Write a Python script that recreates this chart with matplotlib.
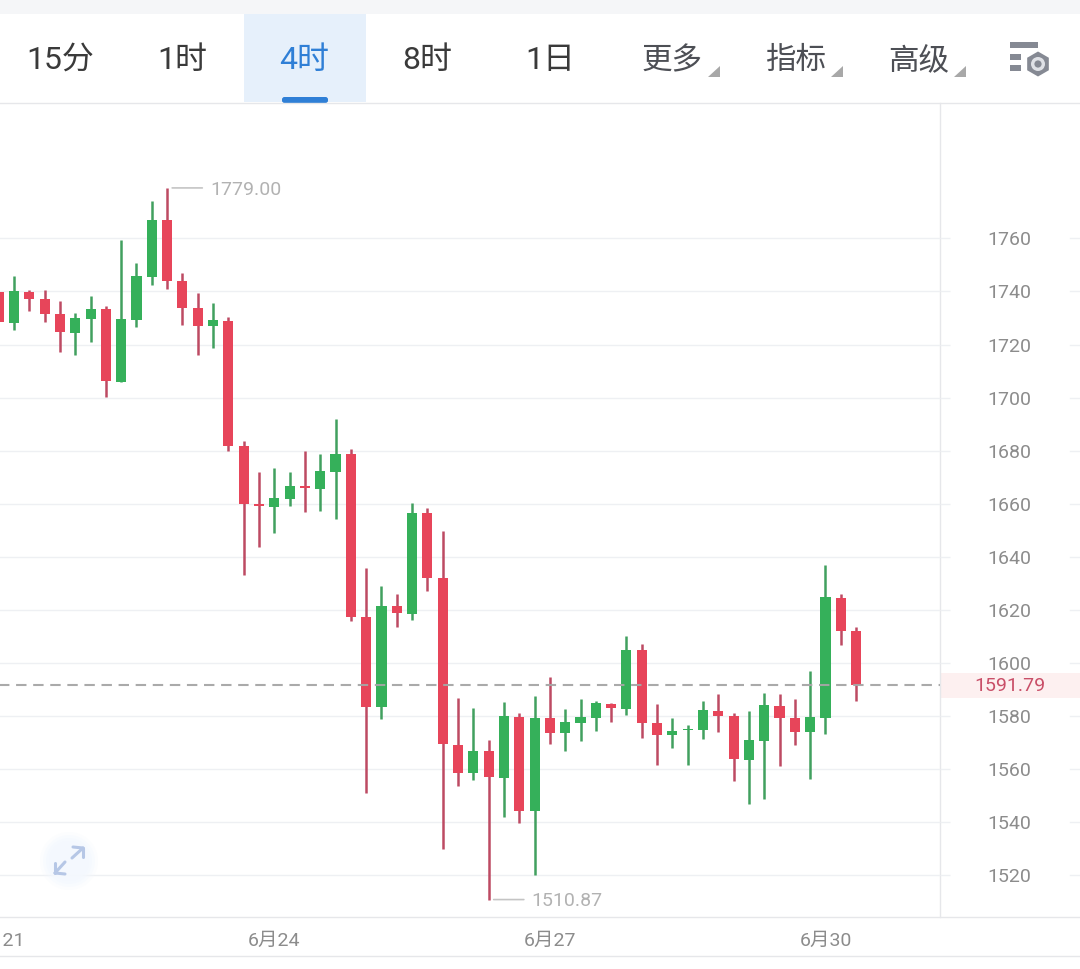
import matplotlib
matplotlib.use("Agg")
import matplotlib.pyplot as plt
from matplotlib.patches import Rectangle, FancyBboxPatch, Polygon, Circle, RegularPolygon

plt.rcParams['font.family'] = ['Roboto', 'Noto Sans CJK SC', 'DejaVu Sans']

# 4-hour candles, oldest first
opens = [1739.8, 1728.1, 1739.8, 1737.1, 1731.5, 1724.3, 1729.6, 1733.4, 1705.9, 1729.2,
         1745.4, 1766.9, 1743.9, 1733.7, 1727.0, 1728.8, 1681.7, 1659.9, 1658.8, 1661.8,
         1666.7, 1665.5, 1671.9, 1678.7, 1617.3, 1583.4, 1621.4, 1618.4, 1656.5, 1632.0,
         1569.1, 1558.5, 1566.8, 1556.6, 1579.6, 1544.2, 1579.3, 1573.6, 1577.4, 1579.3,
         1584.5, 1582.7, 1604.9, 1577.4, 1572.9, 1574.7, 1574.7, 1581.9, 1580.0, 1563.5,
         1570.6, 1583.8, 1579.3, 1574.0, 1579.3, 1624.5, 1612.0]
highs = [1740.4, 1745.8, 1740.5, 1740.5, 1736.4, 1731.9, 1738.3, 1734.5, 1759.4, 1750.7,
         1774.05, 1779.0, 1746.9, 1739.4, 1735.6, 1730.3, 1683.6, 1671.9, 1673.5, 1671.9,
         1679.9, 1678.7, 1691.9, 1680.6, 1635.8, 1629.0, 1626.0, 1660.3, 1658.4, 1649.7,
         1586.8, 1583.0, 1571.0, 1585.3, 1581.2, 1587.5, 1594.7, 1582.7, 1586.4, 1585.7,
         1584.9, 1610.1, 1607.1, 1584.5, 1579.3, 1576.6, 1585.7, 1588.3, 1581.2, 1581.9,
         1588.7, 1588.3, 1586.4, 1596.9, 1636.9, 1626.0, 1613.5]
lows = [1728.0, 1725.4, 1732.6, 1728.5, 1717.2, 1716.0, 1720.9, 1700.2, 1705.9, 1726.6,
        1742.4, 1740.9, 1727.3, 1716.0, 1718.7, 1679.9, 1633.1, 1643.7, 1649.0, 1659.1,
        1656.9, 1657.2, 1654.2, 1615.8, 1551.0, 1578.9, 1613.5, 1616.2, 1627.1, 1529.9,
        1553.6, 1555.9, 1510.87, 1541.9, 1539.6, 1520.0, 1569.5, 1566.8, 1570.6, 1574.4,
        1577.8, 1580.4, 1571.7, 1561.5, 1568.0, 1561.5, 1571.3, 1574.0, 1555.5, 1546.8,
        1548.7, 1561.1, 1569.1, 1556.3, 1573.2, 1606.7, 1585.7]
closes = [1728.5, 1740.1, 1737.2, 1731.5, 1724.7, 1730.0, 1733.4, 1706.2, 1729.6, 1745.8,
          1766.9, 1743.9, 1733.7, 1727.0, 1729.2, 1681.7, 1659.9, 1659.1, 1662.1, 1666.7,
          1665.9, 1672.3, 1678.7, 1617.3, 1583.4, 1621.4, 1618.8, 1656.5, 1632.0, 1569.5,
          1558.5, 1566.8, 1557.0, 1580.0, 1544.2, 1579.3, 1573.6, 1577.8, 1579.6, 1584.9,
          1583.0, 1604.9, 1577.4, 1572.9, 1574.4, 1575.1, 1582.3, 1580.0, 1563.8, 1571.0,
          1584.2, 1579.3, 1574.0, 1579.6, 1624.8, 1612.0, 1591.79]

date_ticks = [0, 18, 36, 54]
date_labels = ["6月21", "6月24", "6月27", "6月30"]
price_ticks = [1520, 1540, 1560, 1580, 1600, 1620, 1640, 1660, 1680, 1700, 1720, 1740, 1760]
period_tabs = ["15分", "1时", "4时", "8时", "1日"]
menu_tabs = ["更多", "指标", "高级"]
last_price = closes[-1]
peak_price = max(highs)
trough_price = min(lows)

RED, GREEN = "#e7455a", "#35b05a"
RED_WICK, GREEN_WICK = "#bd4a63", "#41a05f"
GRID = "#eef0f3"
RULE = "#e6e7ea"

W, H = 1080, 969
fig = plt.figure(figsize=(W / 100, H / 100), dpi=100, facecolor="white")

# Price pane: extends past the left edge so the oldest candle is cut off
LEFT, RIGHT, TOP, BOTTOM = -30, 940, 103, 917
ax = fig.add_axes([LEFT / W, 1 - BOTTOM / H, (RIGHT - LEFT) / W, (BOTTOM - TOP) / H])
ax.set_xlim(-1.874, 61.48)
ax.set_ylim(1504.3, 1811.0)
ax.patch.set_alpha(0)
for side in ax.spines.values():
    side.set_visible(False)

ax.yaxis.tick_right()
ax.set_yticks(price_ticks)
ax.set_yticklabels([str(v) for v in price_ticks], ha="center")
ax.tick_params(axis="y", length=7.2, width=1, color=GRID, pad=43, labelsize=14, labelcolor="#8c8c8c")
ax.set_xticks(date_ticks)
ax.set_xticklabels(date_labels)
ax.tick_params(axis="x", length=0, pad=10.5, labelsize=14, labelcolor="#8c8c8c")
ax.grid(axis="y", color=GRID, linewidth=1)
ax.set_axisbelow(True)

# Short stub of each gridline at the far right edge
for v in price_ticks:
    ax.plot([(1070 - LEFT) / (RIGHT - LEFT), (1080 - LEFT) / (RIGHT - LEFT)], [v, v],
            transform=ax.get_yaxis_transform(), color=GRID, lw=1, clip_on=False)

for i, (o, h, l, c) in enumerate(zip(opens, highs, lows, closes)):
    falling = c < o
    ax.vlines(i, l, h, color=RED_WICK if falling else GREEN_WICK, linewidth=1.8, zorder=2)
    ax.bar(i, abs(c - o), bottom=min(o, c), width=0.66,
           color=RED if falling else GREEN, linewidth=0, zorder=3)

# Last-price marker
ax.axhline(last_price, color="#a6a6a6", linewidth=1.5, dashes=(5, 3.2), zorder=4, alpha=0.95)

# Extremes, labelled beside the candle that set them
for price, candle_list in ((peak_price, highs), (trough_price, lows)):
    idx = candle_list.index(price)
    ax.annotate("", xy=(idx + 0.33, price), xytext=(idx + 2.3, price),
                arrowprops=dict(arrowstyle="-", color="#c4c4c4", lw=1.2, shrinkA=0, shrinkB=0))
    ax.annotate(f"{price:.2f}", xy=(idx + 2.81, price), xytext=(0, -1.2), textcoords="offset points",
                color="#b2b2b2", fontsize=14, va="center", ha="left")

# Toolbar and frame, laid out in screen pixels
ui = fig.add_axes([0, 0, 1, 1], zorder=-1)
ui.set_xlim(0, W)
ui.set_ylim(H, 0)
ui.axis("off")
top = fig.add_axes([0, 0, 1, 1], zorder=5)
top.set_xlim(0, W)
top.set_ylim(H, 0)
top.axis("off")
top.patch.set_alpha(0)

ui.add_patch(Rectangle((0, 0), W, 14, color="#f5f6f8", lw=0))
ui.add_patch(Rectangle((244, 14), 122, 88, color="#e6f0fb", lw=0))
ui.add_patch(FancyBboxPatch((282, 97), 46, 6, boxstyle="round,pad=0,rounding_size=2.5", color="#2f7fd6", lw=0))
ui.plot([0, W], [103, 103], color=RULE, lw=1)
ui.plot([940, 940], [103, 917], color=RULE, lw=1)
ui.plot([0, W], [917, 917], color=RULE, lw=1)
ui.plot([0, W], [956, 956], color=RULE, lw=1)
ui.add_patch(Rectangle((941, 673), 139, 25, color="#fdf0f0", lw=0))

for k, (cx, label) in enumerate(zip([60, 182, 304, 427, 550], period_tabs)):
    top.text(cx, 60.5, label, fontsize=23, ha="center", va="center",
             color="#2f7fd6" if label == "4时" else "#3a3a3a")

for x0, label in zip([643, 766, 889], menu_tabs):
    top.text(x0 + 29.5, 60.5, label, fontsize=22, ha="center", va="center", color="#4d4f55")
    top.add_patch(Polygon([[x0 + 65, 77], [x0 + 77, 77], [x0 + 77, 66]], closed=True, color="#a8a8a8", lw=0))

top.text(1010, 686, f"{last_price:.2f}", fontsize=14, color="#c94f68", ha="center", va="center")

# Settings icon
ICON = "#858993"
top.add_patch(Rectangle((1010, 42), 28, 6, color=ICON, lw=0))
top.add_patch(Rectangle((1010, 54), 11, 6, color=ICON, lw=0))
top.add_patch(Rectangle((1010, 65), 11, 6, color=ICON, lw=0))
top.add_patch(RegularPolygon((1038, 64), 6, radius=12.5, color=ICON, lw=0))
top.add_patch(Circle((1038, 64), 7, color="#dfe1e6", lw=0))
top.add_patch(Circle((1038, 64), 3.6, color=ICON, lw=0))

# Fullscreen button
for r, a in ((29, 0.25), (26, 0.4), (23, 0.6), (20, 0.8)):
    top.add_patch(Circle((69, 861), r, color="#f4f8fe", alpha=a, lw=0))
ARROW = "#b6c7e6"
for seg in (
    ([55, 65], [873, 862]), ([55, 55], [873, 863]), ([55, 65], [873, 874]),
    ([72, 83], [858, 848]), ([83, 83], [848, 857]), ([83, 73], [848, 847]),
):
    top.plot(seg[0], seg[1], color=ARROW, lw=2.2, solid_capstyle="round")

fig.savefig("out.png", dpi=100)
